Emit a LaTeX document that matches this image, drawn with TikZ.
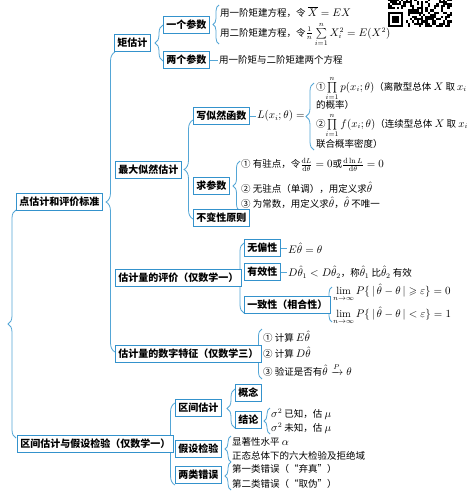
\documentclass[tikz,border=0pt]{standalone}
\usepackage{amsmath,amssymb}
\usepackage{fontspec}
\newfontfamily\cjk{Noto Sans CJK SC}
\DeclareMathSizes{9.5}{10.5}{7.5}{6}
\usetikzlibrary{decorations.pathreplacing}
\definecolor{bblue}{RGB}{52,146,204}
\definecolor{lblue}{RGB}{84,166,214}
\begin{document}
\begin{tikzpicture}[x=1pt,y=-1pt,
 box/.style={draw=bblue, line width=0.9pt, fill=white, inner xsep=3pt, inner ysep=0pt, minimum height=17pt, anchor=west, font=\cjk\bfseries\fontsize{10}{12}\selectfont},
 txt/.style={inner sep=0pt, anchor=west, font=\cjk\fontsize{9.5}{11}\selectfont},
 br/.style={draw=lblue, line width=0.8pt, decorate, decoration={brace, amplitude=#1}},
 br/.default=8pt,
 con/.style={draw=lblue, line width=0.8pt}]
\useasboundingbox (0,0) rectangle (474,499);
\fill[white] (0,0) rectangle (474,499);

% QR code
\pgfmathsetseed{4242}
\foreach \i in {0,...,28}{\foreach \j in {0,...,12}{
  \pgfmathtruncatemacro{\qrr}{(rnd<0.5)&&!((\i<8)&&(\j>4))}
  \ifnum\qrr=1 \fill[black] (388+2.2*\i,-1.6+2.2*\j) rectangle ++(2.2,2.2);\fi
}}
\fill[black] (388,11.6) rectangle (403.4,27);
\fill[white] (390.2,13.8) rectangle (401.2,24.8);
\fill[black] (392.4,16) rectangle (399,22.6);

% braces (drawn first, boxes on top)
\draw[br=8pt] (16,438) -- (16,210);
\draw[br=9pt] (115,352) -- (115,52);
\draw[br=8pt] (163,61) -- (163,25);
\draw[br=6pt] (219,44) -- (219,5);
\draw[br=9pt] (193,219) -- (193,120);
\draw[br=8pt] (314,150) -- (314,83);
\draw[br=7pt] (240,211) -- (240,161);
\draw[br=8pt] (244,313) -- (244,243);
\draw[br=6pt] (332,322) -- (332,287);
\draw[br=7pt] (262,379) -- (262,329);
\draw[br=9pt] (175,485) -- (175,403);
\draw[br=8pt] (235,428) -- (235,389);
\draw[br=6pt] (270,434) -- (270,408);
\draw[br=6pt] (231,462) -- (231,436);
\draw[br=6pt] (231,490) -- (231,462);

% boxes
\node[box] (pt) at (16,202) {点估计和评价标准};
\node[box] (qj) at (17,444) {区间估计与假设检验（仅数学一）};
\node[box] (jg) at (114,43) {矩估计};
\node[box] (zd) at (115,170) {最大似然估计};
\node[box] (pj) at (115,278) {估计量的评价（仅数学一）};
\node[box] (sz) at (115,354) {估计量的数字特征（仅数学三）};
\node[box] (yg) at (163,25) {一个参数};
\node[box] (lg) at (163,60) {两个参数};
\node[box] (xs) at (193,116) {写似然函数};
\node[box] (qc) at (193,186) {求参数};
\node[box] (bb) at (193,218) {不变性原则};
\node[box] (wp) at (244,248) {无偏性};
\node[box] (yx) at (244,272) {有效性};
\node[box] (yz) at (244,305) {一致性（相合性）};
\node[box] (qg) at (175,408) {区间估计};
\node[box] (jy) at (175,449) {假设检验};
\node[box] (lc) at (175,475) {两类错误};
\node[box] (gn) at (235,393) {概念};
\node[box] (jl) at (235,420) {结论};

% texts
\node[txt] (t1) at (220,12) {用一阶矩建方程，令 $\overline{X}=EX$};
\node[txt] (t2) at (220,34) {用二阶矩建方程，令$\frac{1}{n}\sum\limits_{i=1}^{n}X_i^2=E(X^2)$};
\node[txt] (t3) at (219,60) {用一阶矩与二阶矩建两个方程};
\node[txt] (tL) at (257,116) {$L(x_i;\theta)=$};
\node[txt] (p1) at (316,88) {①$\prod\limits_{i=1}^{n}p(x_i;\theta)$（离散型总体 $X$ 取 $x_i$};
\node[txt] (p1b) at (316,105) {的概率）};
\node[txt] (p2) at (316,125) {②$\prod\limits_{i=1}^{n}f(x_i;\theta)$（连续型总体 $X$ 取 $x_i$};
\node[txt] (p2b) at (316,144) {联合概率密度）};
\node[txt] (q1) at (241,165) {① 有驻点，令$\frac{\mathrm{d}L}{\mathrm{d}\theta}=0$或$\frac{\mathrm{d}\ln L}{\mathrm{d}\theta}=0$};
\node[txt] (q2) at (241,188) {② 无驻点（单调），用定义求$\hat\theta$};
\node[txt] (q3) at (241,203) {③ 为常数，用定义求$\hat\theta$，$\hat\theta$ 不唯一};
\node[txt] (e1) at (288,248) {$E\hat\theta=\theta$};
\node[txt] (e2) at (288,272) {$D\hat\theta_1<D\hat\theta_2$，称$\hat\theta_1$ 比$\hat\theta_2$ 有效};
\node[txt] (l1) at (333,293) {$\lim\limits_{n\to\infty}P\{\,|\,\hat\theta-\theta\,|\geqslant\varepsilon\}=0$};
\node[txt] (l2) at (333,316) {$\lim\limits_{n\to\infty}P\{\,|\,\hat\theta-\theta\,|<\varepsilon\}=1$};
\node[txt] (d1) at (263,337) {① 计算 $E\hat\theta$};
\node[txt] (d2) at (263,353) {② 计算 $D\hat\theta$};
\node[txt] (d3) at (263,370) {③ 验证是否有$\hat\theta\xrightarrow{P}\theta$};
\node[txt] (s1) at (271,414) {$\sigma^2$ 已知，估 $\mu$};
\node[txt] (s2) at (271,428) {$\sigma^2$ 未知，估 $\mu$};
\node[txt] (h1) at (232,442) {显著性水平 $\alpha$};
\node[txt] (h2) at (232,456) {正态总体下的六大检验及拒绝域};
\node[txt] (c1) at (232,469) {第一类错误（“弃真”）};
\node[txt] (c2) at (232,484) {第二类错误（“取伪”）};

% dash connectors
\draw[con] (lg.east) -- ([xshift=-1pt]t3.west);
\draw[con] (xs.east) -- ([xshift=-1pt]tL.west);
\draw[con] (wp.east) -- ([xshift=-1pt]e1.west);
\draw[con] (yx.east) -- ([xshift=-1pt]e2.west);
\end{tikzpicture}
\end{document}
